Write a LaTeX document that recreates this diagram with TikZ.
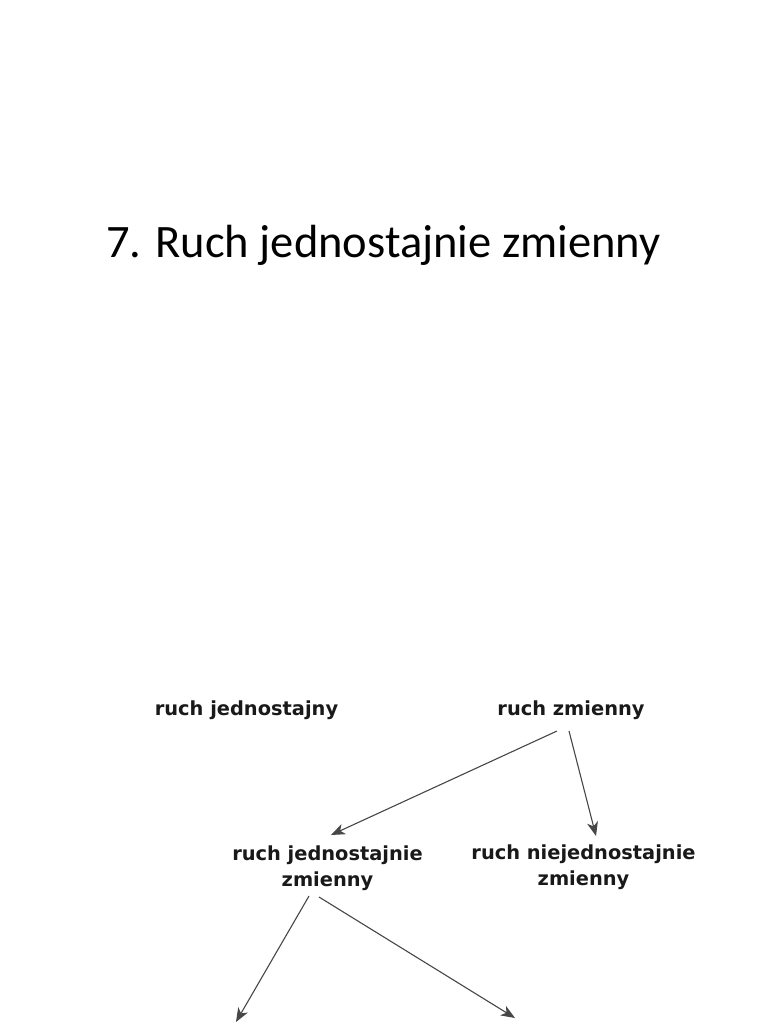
\documentclass[tikz,border=0pt]{standalone}
\usepackage{fontspec}
\setmainfont{Carlito}
\newfontfamily\lblfont{DejaVu Sans}
\usetikzlibrary{arrows.meta}
\begin{document}
\begin{tikzpicture}[x=1pt,y=-1pt,
  lbl/.style={font=\lblfont\bfseries\fontsize{19.4}{26}\selectfont, align=center, inner sep=0pt, text=black!90},
  conn/.style={draw=black!72, line width=1.1pt, -{Stealth[length=14pt,width=11pt,inset=4pt]}}]
\useasboundingbox[fill=white] (0,0) rectangle (768,1024);
\node[anchor=base, font=\fontsize{46.5}{50}\selectfont] (title) at (383.5,258) {7. Ruch jednostajnie zmienny};
\node[lbl, anchor=base] (rj) at (246.5,715) {ruch jednostajny};
\node[lbl, anchor=base] (rz) at (571,715) {ruch zmienny};
\node[lbl, anchor=base] (rjz) at (327.5,886) {ruch jednostajnie\\zmienny};
\node[lbl, anchor=base] (rnz) at (583.5,885) {ruch niejednostajnie\\zmienny};
\coordinate (a1s) at (557,731);
\coordinate (a1e) at (331,835);
\coordinate (a2s) at (569,731);
\coordinate (a2e) at (596,836);
\coordinate (a3s) at (309,896);
\coordinate (a3e) at (236,1022);
\coordinate (a4s) at (319,897);
\coordinate (a4e) at (515,1018);
\draw[conn] (a1s) -- (a1e);
\draw[conn] (a2s) -- (a2e);
\draw[conn] (a3s) -- (a3e);
\draw[conn] (a4s) -- (a4e);
\end{tikzpicture}
\end{document}
